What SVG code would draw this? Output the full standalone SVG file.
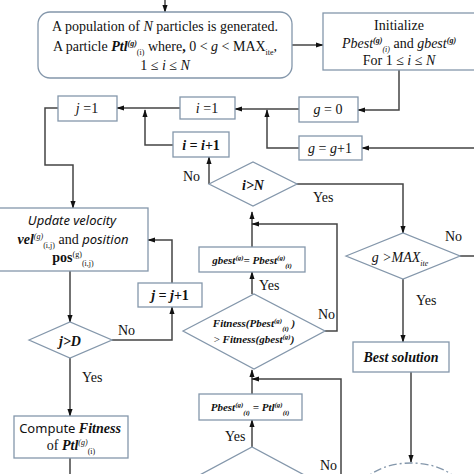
<svg xmlns="http://www.w3.org/2000/svg" width="474" height="474" viewBox="0 0 474 474">
<defs>
<marker id="ah" markerWidth="8" markerHeight="12" refX="11" refY="4" orient="auto" markerUnits="userSpaceOnUse" viewBox="0 0 12 8">
<path d="M0,0 L12,4 L0,8 Z" fill="#111"/>
</marker>
<style>
.box{fill:#fff;stroke:#8497ab;stroke-width:1.3}
.ln{fill:none;stroke:#444;stroke-width:1.5;marker-end:url(#ah)}
.ln0{fill:none;stroke:#444;stroke-width:1.5}
text{font-family:"Liberation Serif","Times New Roman",serif;fill:#111;text-anchor:middle}
.s{font-family:"Noto Sans","DejaVu Sans",sans-serif}
.t14{font-size:14px}
.t13{font-size:13px}
.bi{font-weight:bold;font-style:italic}
.i{font-style:italic}
.sm{font-size:8px}
.lab{font-size:14px;text-anchor:start}
</style>
</defs>
<rect width="474" height="474" fill="#fff"/>
<g id="connectors">
<path class="ln" d="M165,0 V12"/>
<path class="ln" d="M292,45 H323"/>
<path class="ln" d="M399,70 V110 H358"/>
<path class="ln" d="M299,109 H235"/>
<path class="ln" d="M299,148 H267 V110"/>
<path class="ln" d="M460,256 H480 V148 H362"/>
<path class="ln" d="M180,108 H117"/>
<path class="ln" d="M173,145 H145 V110"/>
<path class="ln" d="M58,108 H45 V165 H73 V208"/>
<path class="ln" d="M70,271 V322"/>
<path class="ln" d="M112,340 H172 V307"/>
<path class="ln" d="M172,283 V240 H148"/>
<path class="ln" d="M70,358 V416"/>
<path class="ln0" d="M70,458 V480"/>
<path class="ln" d="M209,184 V157"/>
<path class="ln" d="M296,184 H403 V233"/>
<path class="ln" d="M403,279 V342"/>
<path class="ln" d="M411,372 V462"/>
<path class="ln" d="M252,247 V212"/>
<path class="ln" d="M325,331 H337 V224 H252"/>
<path class="ln" d="M252,294 V272"/>
<path class="ln" d="M252,394 V370"/>
<path class="ln" d="M341,480 V379 H252"/>
<path class="ln" d="M252,447 V420"/>
</g>
<g id="labels">
<text class="lab" x="183" y="181">No</text>
<text class="lab" x="313" y="202">Yes</text>
<text class="lab" x="118" y="335">No</text>
<text class="lab" x="82" y="382">Yes</text>
<text class="lab" x="259" y="290">Yes</text>
<text class="lab" x="318" y="319">No</text>
<text class="lab" x="225" y="441">Yes</text>
<text class="lab" x="320" y="470">No</text>
<text class="lab" x="445" y="241">No</text>
<text class="lab" x="416" y="305">Yes</text>
</g>
<g id="population">
<rect class="box" x="38" y="12" width="254" height="66" rx="12"/>
<text class="t14" x="165" y="31">A population of <tspan class="i">N</tspan>  particles is generated.</text>
<text class="t14" x="165" y="51">A particle   <tspan class="bi">Ptl</tspan><tspan class="sm bi" dy="-5">(g)</tspan><tspan class="sm" dy="9">(i)</tspan><tspan dy="-4">  where<tspan font-weight="bold">,</tspan> 0 &lt; </tspan><tspan class="i">g</tspan> &lt; MAX<tspan class="sm" dy="4">ite</tspan><tspan dy="-4">,</tspan></text>
<text class="t14" x="165" y="70">1 ≤ <tspan class="i">i</tspan> ≤ <tspan class="i">N</tspan></text>
</g>
<g id="initialize">
<rect class="box" x="323" y="13" width="160" height="57"/>
<text class="t14" x="399" y="30">Initialize</text>
<text class="t14" x="399" y="48"><tspan class="i">Pbest</tspan><tspan class="sm bi" dy="-5">(g)</tspan><tspan class="sm i" dy="9">(i)</tspan><tspan dy="-4"> and </tspan><tspan class="i">gbest</tspan><tspan class="sm bi" dy="-5">(g)</tspan></text>
<text class="t14" x="399" y="65">For 1 ≤ <tspan class="i">i</tspan> ≤ <tspan class="i">N</tspan></text>
</g>
<g id="g0">
<rect class="box" x="299" y="97" width="59" height="25"/>
<text class="t14" x="328" y="114"><tspan class="i">g</tspan> = 0</text>
</g>
<g id="gplus">
<rect class="box" x="299" y="136" width="63" height="24"/>
<text class="t14" x="330" y="153"><tspan class="i">g</tspan> = <tspan class="i">g</tspan>+1</text>
</g>
<g id="i1">
<rect class="box" x="180" y="97" width="55" height="22"/>
<text class="t14" x="207" y="113"><tspan class="i">i</tspan> =1</text>
</g>
<g id="iplus">
<rect class="box" x="173" y="132" width="56" height="25"/>
<text class="t14 bi" x="201" y="150">i = i<tspan font-style="normal">+1</tspan></text>
</g>
<g id="j1">
<rect class="box" x="58" y="96" width="59" height="25"/>
<text class="t14" x="87" y="113"><tspan class="i">j</tspan> =1</text>
</g>
<g id="ign">
<path class="box" d="M209,184 L253,162 L297,184 L253,206 Z"/>
<text class="t14 bi" x="253" y="190">i&gt;N</text>
</g>
<g id="update">
<rect class="box" x="-1" y="208" width="149" height="63"/>
<text class="t13 s i" x="72" y="225">Update velocity</text>
<text class="t14" x="73" y="244"><tspan class="bi">vel</tspan><tspan class="sm i" dy="-5">(g)</tspan><tspan class="sm" dy="9">(i,j)</tspan><tspan dy="-4"> and </tspan><tspan class="s i" font-size="13">position</tspan></text>
<text class="t14" x="73" y="262"><tspan font-weight="bold">pos</tspan><tspan class="sm" dy="-5">(g)</tspan><tspan class="sm" dy="9">(i,j)</tspan></text>
</g>
<g id="jd">
<path class="box" d="M29,340 L70,322 L112,340 L70,358 Z"/>
<text class="t14 bi" x="70" y="346">j&gt;D</text>
</g>
<g id="jplus">
<rect class="box" x="138" y="283" width="64" height="24"/>
<text class="t14 bi" x="170" y="300">j = j<tspan font-style="normal">+1</tspan></text>
</g>
<g id="compute">
<rect class="box" x="14" y="416" width="114" height="42"/>
<text class="t13 s" x="70" y="433">Compute <tspan font-family="Liberation Serif" font-size="14" class="bi">Fitness</tspan></text>
<text class="t14" x="71" y="450">of <tspan class="bi">Ptl</tspan><tspan class="sm i" dy="-5">(g)</tspan><tspan class="sm" dy="9">(i)</tspan></text>
</g>
<g id="gmax">
<path class="box" d="M346,256 L403,233 L460,256 L403,279 Z"/>
<text class="t14 i" x="400" y="262"><tspan class="i">g</tspan> &gt;MAX<tspan class="sm" dy="4">ite</tspan></text>
</g>
<g id="best">
<rect class="box" x="353" y="342" width="96" height="30"/>
<text class="t14 bi" x="401" y="362">Best solution</text>
</g>
<g id="end">
<ellipse cx="411" cy="494" rx="52" ry="31" fill="none" stroke="#8497ab" stroke-width="1.3" stroke-dasharray="8,3,2,3"/>
</g>
<g id="gbestset">
<rect class="box" x="199" y="247" width="106" height="25"/>
<text class="bi" font-size="11" x="252" y="264">gbest<tspan font-size="7" dy="-4">(g)</tspan><tspan dy="4">= Pbest</tspan><tspan font-size="7" dy="-4">(g)</tspan><tspan font-size="7" dy="8">(i)</tspan></text>
</g>
<g id="fitness">
<path class="box" d="M183,331 L254,294 L325,331 L254,369 Z"/>
<text class="bi" font-size="11" x="254" y="327">Fitness(Pbest<tspan font-size="7" dy="-4">(g)</tspan><tspan font-size="7" dy="8">(i)</tspan><tspan dy="-4"> )</tspan></text>
<text class="bi" font-size="11" x="254" y="343"><tspan font-style="normal" font-weight="normal">&gt;</tspan> Fitness(gbest<tspan font-size="7" dy="-4">(g)</tspan><tspan dy="4">)</tspan></text>
</g>
<g id="pbestset">
<rect class="box" x="199" y="394" width="103" height="26"/>
<text class="bi" font-size="11" x="250" y="411">Pbest<tspan font-size="7" dy="-4">(g)</tspan><tspan font-size="7" dy="8">(i)</tspan><tspan dy="-4"> = Ptl</tspan><tspan font-size="7" dy="-4">(g)</tspan><tspan font-size="7" dy="8">(i)</tspan></text>
</g>
<g id="compare2">
<path class="box" d="M181,485 L252,447 L323,485 L252,523 Z"/>
</g>
</svg>
